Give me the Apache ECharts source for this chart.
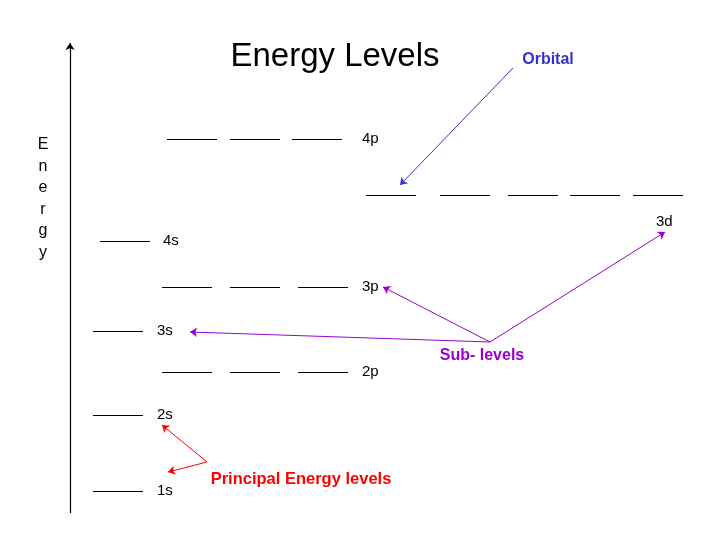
<!DOCTYPE html>
<html><head><meta charset="utf-8">
<script src="https://cdn.jsdelivr.net/npm/echarts@6/dist/echarts.min.js"></script>
<style>html,body{margin:0;padding:0;background:#fff}#c{width:720px;height:540px}</style>
</head><body><div id="c"></div>
<script>
// Energy levels: name, level y, orbital segment start x values, segment length, label position
const levelNames = ['1s','2s','3s','4s','2p','3p','4p','3d'];
const levelY = [491,415,331,241,372,287,139,195];
const levelStarts = [[93],[93],[93],[100],[162,230,298],[162,230,298],[167,230,292],[366,440,508,570,633]];
const levelLabelPos = [[157,491],[157,415],[157,331],[163,241],[362,372],[362,287],[362,139],[656,222]];
const segLen = 50;
// annotation arrows [from, to]
const orbitalArrows = [[[513,68],[400,185]]];
const subArrows = [[[490,342],[383,287]],[[490,342],[190,332]],[[490,342],[665,232]]];
const principalArrows = [[[207,462],[162,425]],[[207,462],[168,472]]];
const energyLetters = ['E','n','e','r','g','y'];

const segs = [];
levelStarts.forEach((arr,i)=>arr.forEach(x=>segs.push({coords:[[x,levelY[i]],[x+segLen,levelY[i]]]})));
const labels = levelNames.map((n,i)=>({value:levelLabelPos[i],name:n}));
const letters = energyLetters.map((l,i)=>({value:[43,145+i*21.5],name:l}));
const arr = (a,c)=>({type:'lines',coordinateSystem:'cartesian2d',symbol:['none','arrow'],symbolSize:7,
  lineStyle:{color:c,width:1,opacity:1},data:a.map(p=>({coords:p})),silent:true});
const txt = (data,style)=>({type:'scatter',symbolSize:0,data,silent:true,itemStyle:{opacity:1},
  label:Object.assign({show:true,formatter:'{b}',color:'#000',fontSize:15,fontFamily:'Liberation Sans, Arial'},style)});

const chart = echarts.init(document.getElementById('c'));
chart.setOption({
  animation:false,
  grid:{left:0,right:0,top:0,bottom:0},
  xAxis:{type:'value',min:0,max:720,show:false},
  yAxis:{type:'value',min:0,max:540,inverse:true,show:false},
  series:[
    {type:'lines',coordinateSystem:'cartesian2d',lineStyle:{color:'#000',width:1,opacity:1},data:segs,silent:true},
    {type:'lines',coordinateSystem:'cartesian2d',symbol:['none','arrow'],symbolSize:7,lineStyle:{color:'#000',width:1.2,opacity:1},
      data:[{coords:[[70,513],[70,43]]}],silent:true},
    arr(orbitalArrows,'#3333cc'),arr(subArrows,'#9900cc'),arr(principalArrows,'#ff0000'),
    txt(labels,{position:'right',distance:0}),
    txt(letters,{position:'inside',fontSize:16}),
    txt([{value:[335,57],name:'Energy Levels'}],{position:'inside',fontSize:33}),
    txt([{value:[548,60],name:'Orbital'}],{position:'inside',fontSize:16,fontWeight:'bold',color:'#3333cc'}),
    txt([{value:[482,356],name:'Sub- levels'}],{position:'inside',fontSize:16,fontWeight:'bold',color:'#9900cc'}),
    txt([{value:[301,479],name:'Principal Energy levels'}],{position:'inside',fontSize:16.5,fontWeight:'bold',color:'#ff0000'})
  ]
});
</script></body></html>
